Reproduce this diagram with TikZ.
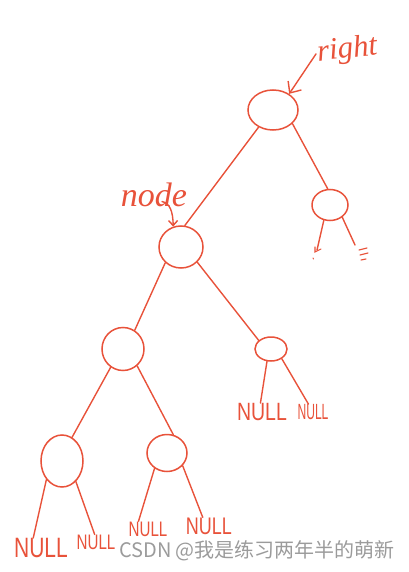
\documentclass[tikz,border=0pt]{standalone}
\usepackage{fontspec}
\setmainfont{Liberation Sans}
\newfontfamily\cjk{Noto Sans CJK SC}
\newfontfamily\hand{Liberation Serif}
\usetikzlibrary{shapes.geometric,arrows.meta}
\definecolor{ink}{RGB}{232,82,58}
\definecolor{wm}{RGB}{155,155,155}
\tikzset{
  tn/.style={ellipse, draw=ink, line width=1.5pt, inner sep=0pt},
  nulltxt/.style={text=ink, inner sep=0pt},
  edge/.style={draw=ink, line width=1.4pt, line cap=round},
  handtxt/.style={text=ink, inner sep=1pt, font=\hand\itshape},
}
\newcommand{\nl}[2]{\fontsize{#1}{#1}\selectfont\scalebox{#2}[1]{NULL}}
\begin{document}
\begin{tikzpicture}[x=1pt,y=-1pt]
\useasboundingbox (0,0) rectangle (408,572);
% tree nodes
\node[tn, minimum width=50pt, minimum height=40pt] (r) at (273,110) {};
\node[tn, minimum width=36pt, minimum height=31pt] (rc) at (330,205) {};
\node[tn, minimum width=44pt, minimum height=42pt] (n) at (181,247) {};
\node[tn, minimum width=42pt, minimum height=43pt] (a) at (123,349) {};
\node[tn, minimum width=32pt, minimum height=24pt] (b) at (271,349) {};
\node[tn, minimum width=42pt, minimum height=52pt] (c) at (62,461) {};
\node[tn, minimum width=40pt, minimum height=37pt] (d) at (167,453) {};
% NULL labels
\node[nulltxt] (nb1) at (262,412) {\nl{25}{0.78}};
\node[nulltxt] (nb2) at (313,412) {\nl{22}{0.55}};
\node[nulltxt] (nc1) at (41,548) {\nl{28}{0.75}};
\node[nulltxt] (nc2) at (96,542) {\nl{21}{0.72}};
\node[nulltxt, text height=15pt, text depth=0pt] (nd1) at (148,529) {\nl{21}{0.72}};
\node[nulltxt] (nd2) at (209,526) {\nl{24}{0.75}};
% hand labels
\node[handtxt, anchor=base, font=\hand\itshape\fontsize{31}{31}\selectfont, rotate=6] (rt) at (348,58) {right};
\node[handtxt, anchor=base, font=\hand\itshape\fontsize{34}{34}\selectfont] (nd) at (154,206) {node};
% edges
\draw[edge] (r.230) -- (n.80);
\draw[edge] (r.-35) -- (rc.98);
\coordinate (rcl) at (317,250);
\coordinate (rcr) at (355,245);
\draw[edge] (rc.-112) -- (rcl);
\draw[edge] (rc.-45) -- (rcr);
\draw[edge] (n.-135) -- (a.58);
\draw[edge] (n.-43) -- (b.145);
\draw[edge] (a.-124) -- (c.67);
\draw[edge] (a.-50) -- (d.71);
\draw[edge] (b.-108) -- (nb1.100);
\draw[edge] (b.-42) -- (nb2.120);
\draw[edge] (c.-130) -- (nc1.128);
\draw[edge] (c.-56) -- (nc2.100);
\draw[edge] (d.-129) -- (nd1.141);
\draw[edge] (d.-39) -- (nd2.126);
% small marks under right child
\draw[edge, line width=1.1pt] (315,247) -- (315,252) -- (321,249);
\draw[edge, line width=1.1pt] (313,258) -- (313.5,259);
\draw[edge, line width=1.1pt] (359,250) -- (367,248);
\draw[edge, line width=1.1pt] (360,255) -- (368,253);
\draw[edge, line width=1.1pt] (361,260) -- (366,259);
% arrows from labels
\draw[edge, -{Straight Barb[length=9pt,width=16pt]}] (rt.west) -- (r.45);
\draw[edge, -{Straight Barb[length=5pt,width=9pt]}] ([xshift=8pt,yshift=6pt]nd.south) .. controls (170,203) and (173,212) .. (n.111);
% watermark
\node[text=wm, inner sep=0pt, text height=13pt, text depth=2pt, font=\cjk\fontsize{20}{20}\selectfont] (wmk) at (257,552) {CSDN @我是练习两年半的萌新};
\end{tikzpicture}
\end{document}
